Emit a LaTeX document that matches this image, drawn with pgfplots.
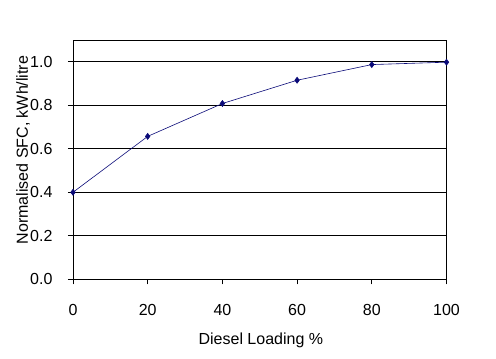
\documentclass[border=0pt]{standalone}
\usepackage{pgfplots}
\pgfplotsset{compat=1.18}
\usepackage{fontspec}
\setmainfont{Liberation Sans}
\definecolor{navy}{RGB}{10,10,120}
\begin{document}
\begin{tikzpicture}
\path[use as bounding box] (0,0) rectangle (496pt,359pt);
\begin{axis}[
  at={(73pt,79.7pt)}, anchor=south west,
  scale only axis, width=373.5pt, height=239.3pt,
  xmin=0, xmax=100, ymin=0, ymax=1.1,
  xtick={0,20,40,60,80,100},
  ytick={0,0.2,0.4,0.6,0.8,1.0},
  y tick label style={/pgf/number format/fixed, /pgf/number format/fixed zerofill, /pgf/number format/precision=1},
  /pgf/number format/assume math mode=true,
  ymajorgrids, grid style={black, line width=0.8pt},
  axis line style={black, line width=0.8pt},
  tick style={black, line width=0.8pt},
  tick align=outside, major tick length=5pt,
  xtick pos=bottom, ytick pos=left,
  ticklabel style={font=\fontsize{16}{19}\selectfont},
  xticklabel style={yshift=-16pt},
  yticklabel style={xshift=-12pt},
  xlabel={Diesel Loading \%}, ylabel={Normalised SFC, kWh/litre},
  label style={font=\fontsize{16}{19}\selectfont},
  xlabel style={at={(axis description cs:0.503,-0.2745)}, anchor=base},
  ylabel style={at={(axis description cs:-0.1205,0.540)}, anchor=base},
]
\addplot[navy, line width=0.6pt, mark=diamond*, mark size=3pt, mark options={fill=navy, draw=navy}]
coordinates {(0,0.40) (20,0.657) (40,0.808) (60,0.915) (80,0.987) (100,0.998)};
\end{axis}
\end{tikzpicture}
\end{document}
